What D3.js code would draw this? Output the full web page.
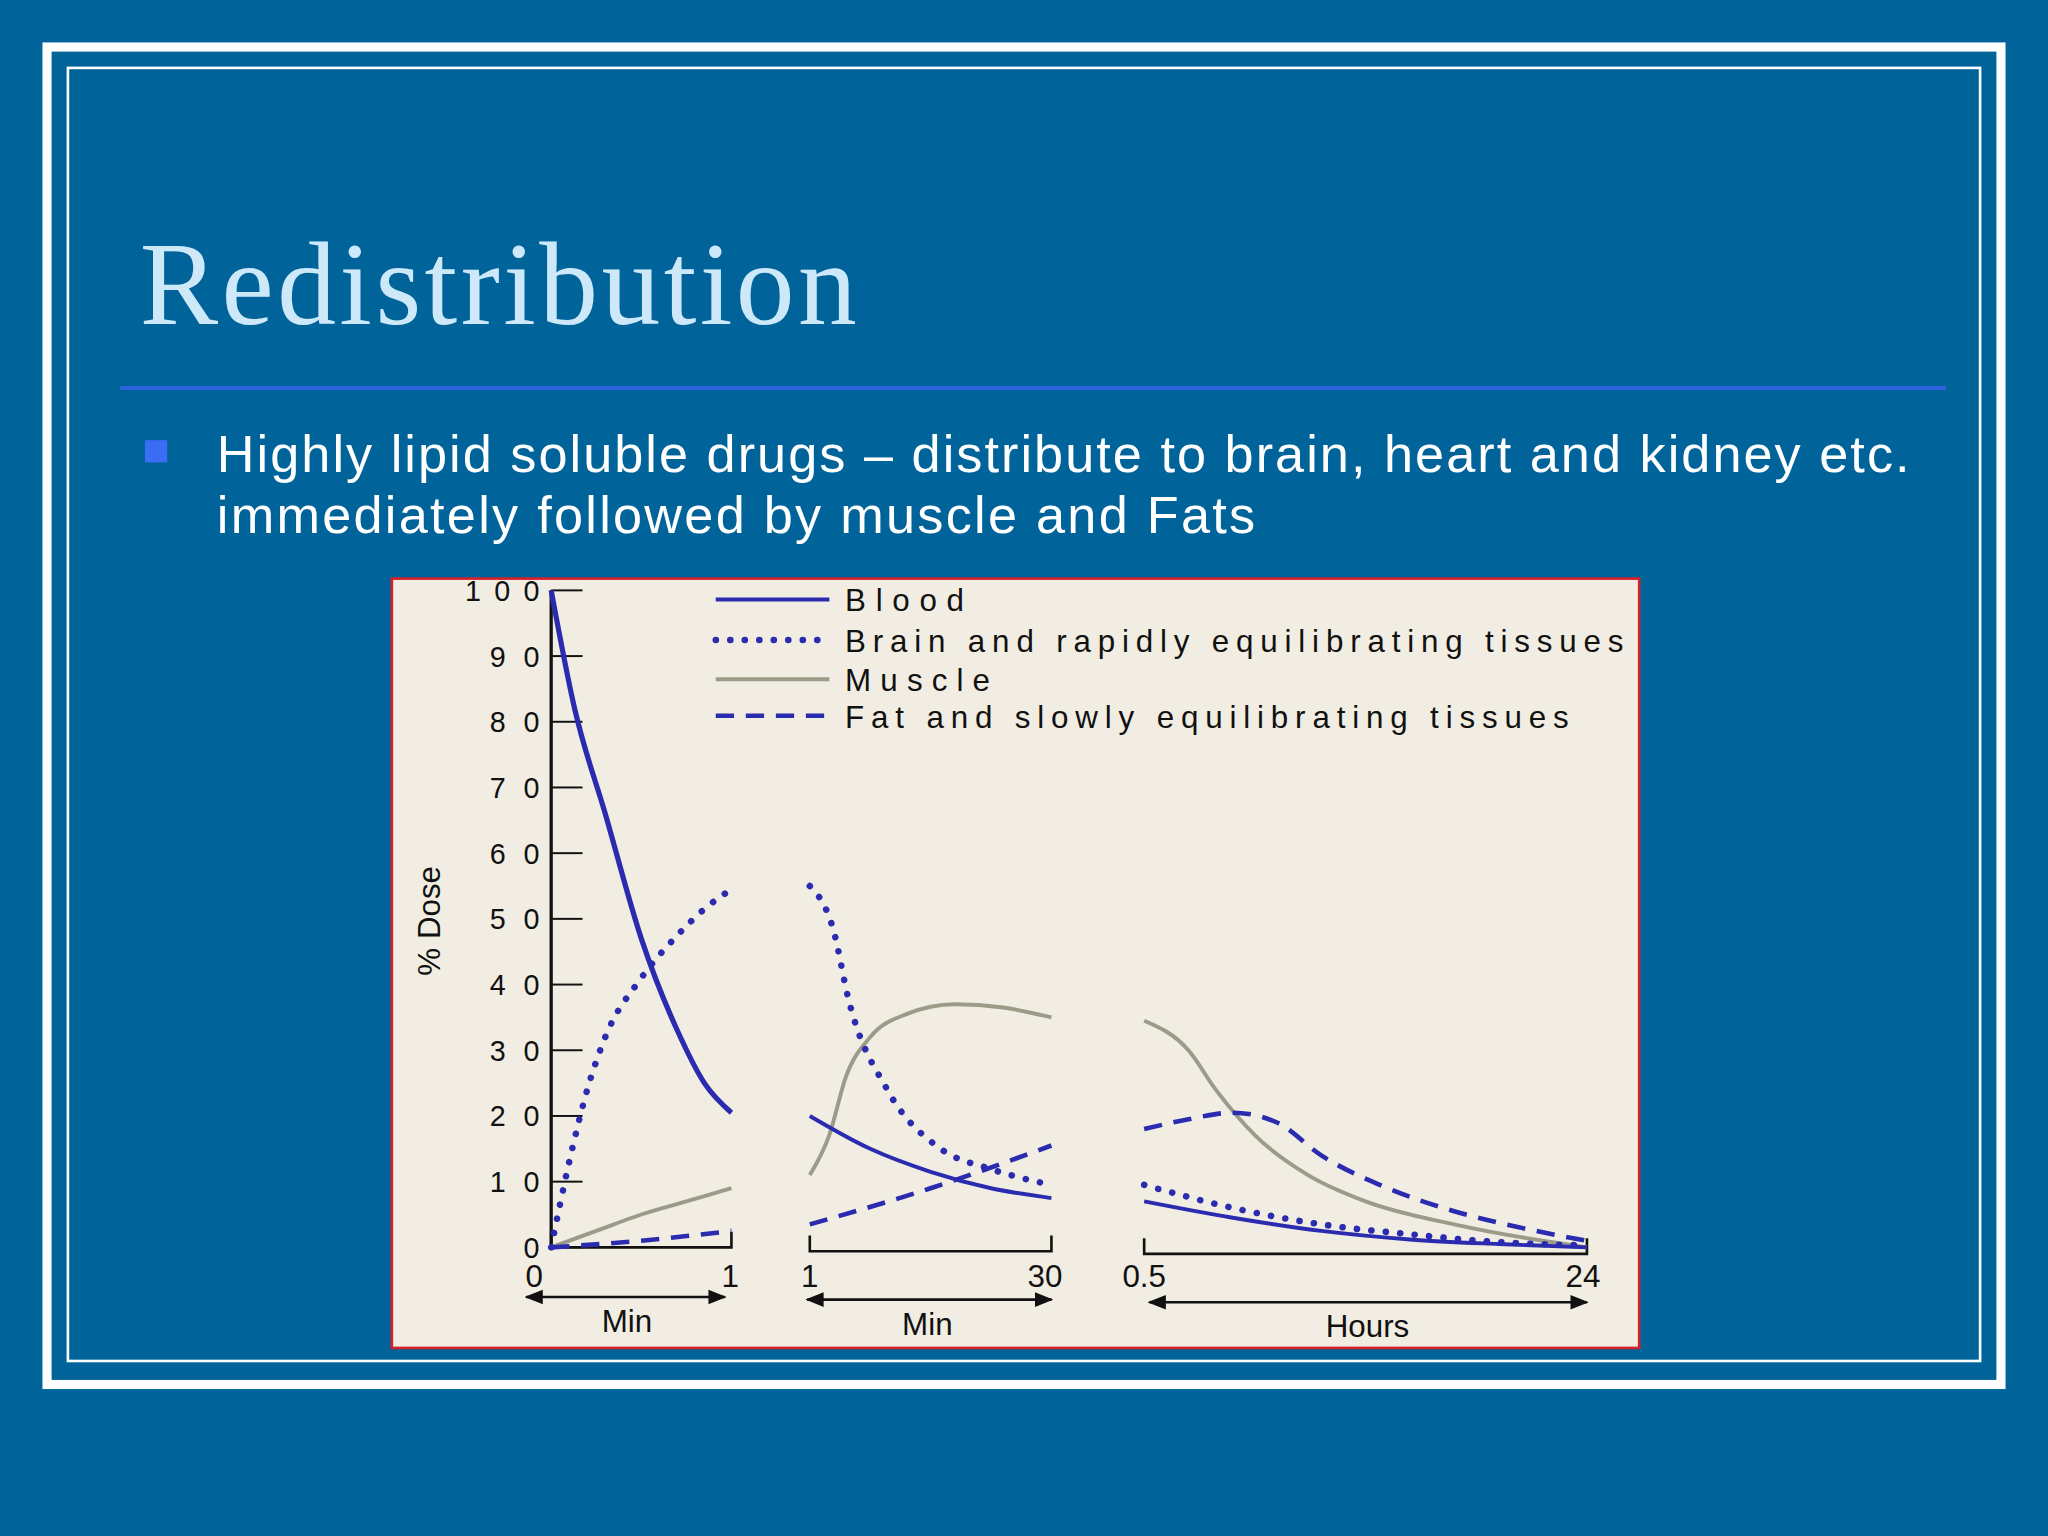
<!doctype html>
<html><head><meta charset="utf-8">
<style>body{margin:0;background:#00649a;overflow:hidden}</style>
</head><body>
<svg id="s" width="2048" height="1536" viewBox="0 0 1568 1176"></svg>
<script src="https://d3js.org/d3.v7.min.js"></script>
<script>
// values, x in each panel's own units
var blood1 = [[0,100],[0.13,82],[0.3,66],[0.5,47],[0.7,33],[0.85,25],[1,20.5]];
var brain1 = [[0,0],[0.1,13],[0.2,24],[0.3,32],[0.5,41],[0.7,47.5],[0.85,51.5],[1,54.5]];
var muscle1 = [[0,0],[0.25,2.5],[0.5,5],[0.75,7],[1,9]];
var fat1 = [[0,0],[0.5,1],[1,2.5]];
var blood2 = [[1,20],[8.25,15],[15.5,11.5],[22.75,9],[30,7.5]];
var brain2 = [[1,55],[3.9,48],[5.6,38],[10.3,24],[16.7,15],[22.5,12],[30,9.5]];
var muscle2 = [[1,11],[3.32,17],[5.35,26],[8.25,32],[12.6,35.5],[18.4,37],[24.2,36.5],[30,35]];
var fat2 = [[1,3.5],[15.5,9],[30,15.5]];
var blood3 = [[0.5,7],[5.2,4.5],[9.9,2.5],[14.6,1.2],[19.3,0.5],[24,0]];
var brain3 = [[0.5,9.5],[5.2,6],[9.9,3.5],[14.6,2],[19.3,0.8],[24,0.3]];
var muscle3 = [[0.5,34.5],[2.85,30],[4.3,24],[6.4,17],[9.2,11],[12.25,7],[16.95,3.5],[21.65,1],[24,0]];
var fat3 = [[0.5,18],[2.85,19.5],[5.2,20.5],[7.55,19],[9.9,14],[13.43,9],[16.95,5.5],[20.48,3],[24,1]];
var yTicks = [0,10,20,30,40,50,60,70,80,90,100];
var legendNames = ["Blood","Brain and rapidly equilibrating tissues","Muscle","Fat and slowly equilibrating tissues"];

var svg = d3.select("#s");
var blue = "#2b2bb0", grey = "#9c9a88";

svg.append("rect").attr("x",36).attr("y",36).attr("width",1496).attr("height",1024).attr("fill","none").attr("stroke","#fff").attr("stroke-width",7);
svg.append("rect").attr("x",52).attr("y",52).attr("width",1464).attr("height",990).attr("fill","none").attr("stroke","#fff").attr("stroke-width",2);
svg.append("text").text("Redistribution").attr("x",107).attr("y",248).attr("fill","#cde9f9").attr("textLength",549).style("font-family","Liberation Serif").style("font-size","90px");
svg.append("line").attr("x1",92).attr("x2",1490).attr("y1",297).attr("y2",297).attr("stroke","#2e62dc").attr("stroke-width",3);
svg.append("rect").attr("x",111).attr("y",337).attr("width",17).attr("height",17).attr("fill","#3a6cf5");
svg.append("text").text("Highly lipid soluble drugs \u2013 distribute to brain, heart and kidney etc.").attr("x",166).attr("y",361).attr("textLength",1296).attr("fill","#fff").style("font-family","Liberation Sans").style("font-size","40px");
svg.append("text").text("immediately followed by muscle and Fats").attr("x",166).attr("y",408).attr("textLength",795).attr("fill","#fff").style("font-family","Liberation Sans").style("font-size","40px");

svg.append("rect").attr("x",300).attr("y",443).attr("width",955).attr("height",589).attr("fill","#f1ede2").attr("stroke","#d8202a").attr("stroke-width",2);

var y = d3.scaleLinear().domain([0,100]).range([955,452]);
var x1 = d3.scaleLinear().domain([0,1]).range([422,560]);
var x2 = d3.scaleLinear().domain([1,30]).range([620,805]);
var x3 = d3.scaleLinear().domain([0.5,24]).range([876,1215]);
var font = "Liberation Sans";

// y axis
svg.append("line").attr("x1",422).attr("x2",422).attr("y1",y(100)).attr("y2",y(0)).attr("stroke","#111").attr("stroke-width",2.5);
var yt = svg.append("g").selectAll("g").data(yTicks).enter().append("g");
yt.append("line").attr("x1",422).attr("x2",446).attr("y1",function(d){return y(d)}).attr("y2",function(d){return y(d)}).attr("stroke","#111").attr("stroke-width",1.5);
yt.append("text").text(function(d){return d}).attr("x",413).attr("y",function(d){return y(d)+8})
  .attr("textLength",function(d){return String(d).length*19}).attr("text-anchor","end")
  .style("font-family",font).style("font-size","22px").attr("fill","#111");
svg.append("text").text("% Dose").attr("transform","translate(337,705) rotate(-90)").attr("text-anchor","middle").style("font-family",font).style("font-size","24px").attr("fill","#111");

// panel brackets
function bracket(x, a, b, yy){
  svg.append("path").attr("d","M"+x(a)+","+(yy-12)+"V"+yy+"H"+x(b)+"V"+(yy-12)).attr("fill","none").attr("stroke","#111").attr("stroke-width",2);
}
bracket(x1,0,1,955); bracket(x2,1,30,958); bracket(x3,0.5,24,960);

svg.append("defs").append("marker").attr("id","ah").attr("viewBox","0 0 10 10").attr("refX",9).attr("refY",5).attr("markerWidth",7).attr("markerHeight",7).attr("orient","auto-start-reverse")
  .append("path").attr("d","M0,1L10,5L0,9z").attr("fill","#111");
var xlabels = [[x1,0,"0",409],[x1,1,"1",559],[x2,1,"1",620],[x2,30,"30",800],[x3,0.5,"0.5",876],[x3,24,"24",1212]];
xlabels.forEach(function(l){
  svg.append("text").text(l[2]).attr("x",l[3]).attr("y",985).attr("text-anchor","middle").style("font-family",font).style("font-size","24px").attr("fill","#111");
});
[[403,555,993,"Min",480,1020],[618,805,995,"Min",710,1022],[880,1215,997,"Hours",1047,1024]].forEach(function(a){
  svg.append("line").attr("x1",a[0]).attr("x2",a[1]).attr("y1",a[2]).attr("y2",a[2]).attr("stroke","#111").attr("stroke-width",2).attr("marker-start","url(#ah)").attr("marker-end","url(#ah)");
  svg.append("text").text(a[3]).attr("x",a[4]).attr("y",a[5]).attr("text-anchor","middle").style("font-family",font).style("font-size","24px").attr("fill","#111");
});

var styles = {
  blood:{stroke:blue,w:3,dash:null},
  brain:{stroke:blue,w:5,dash:"0.1 11",cap:"round"},
  muscle:{stroke:grey,w:3,dash:null},
  fat:{stroke:blue,w:3.5,dash:"14 9"}
};
function draw(data, x, st, w){
  var line = d3.line().x(function(d){return x(d[0])}).y(function(d){return y(d[1])}).curve(d3.curveMonotoneX);
  svg.append("path").datum(data).attr("d",line).attr("fill","none").attr("stroke",st.stroke).attr("stroke-width",w||st.w)
    .attr("stroke-dasharray",st.dash).attr("stroke-linecap",st.cap||"butt");
}
draw(muscle1,x1,styles.muscle); draw(fat1,x1,styles.fat); draw(brain1,x1,styles.brain); draw(blood1,x1,styles.blood,4);
draw(muscle2,x2,styles.muscle); draw(fat2,x2,styles.fat); draw(brain2,x2,styles.brain); draw(blood2,x2,styles.blood);
draw(muscle3,x3,styles.muscle); draw(fat3,x3,styles.fat); draw(brain3,x3,styles.brain); draw(blood3,x3,styles.blood);

// legend
var keys = ["blood","brain","muscle","fat"];
var ly = [459,490,520,548];
var lw = [91,596,111,554];
keys.forEach(function(k,i){
  var st = styles[k];
  svg.append("line").attr("x1",548).attr("x2",635).attr("y1",ly[i]).attr("y2",ly[i]).attr("stroke",st.stroke).attr("stroke-width",st.w)
    .attr("stroke-dasharray",st.dash).attr("stroke-linecap",st.cap||"butt");
  svg.append("text").text(legendNames[i]).attr("x",647).attr("y",ly[i]+9).attr("textLength",lw[i]).style("font-family",font).style("font-size","24px").attr("fill","#111");
});
</script>
</body></html>
